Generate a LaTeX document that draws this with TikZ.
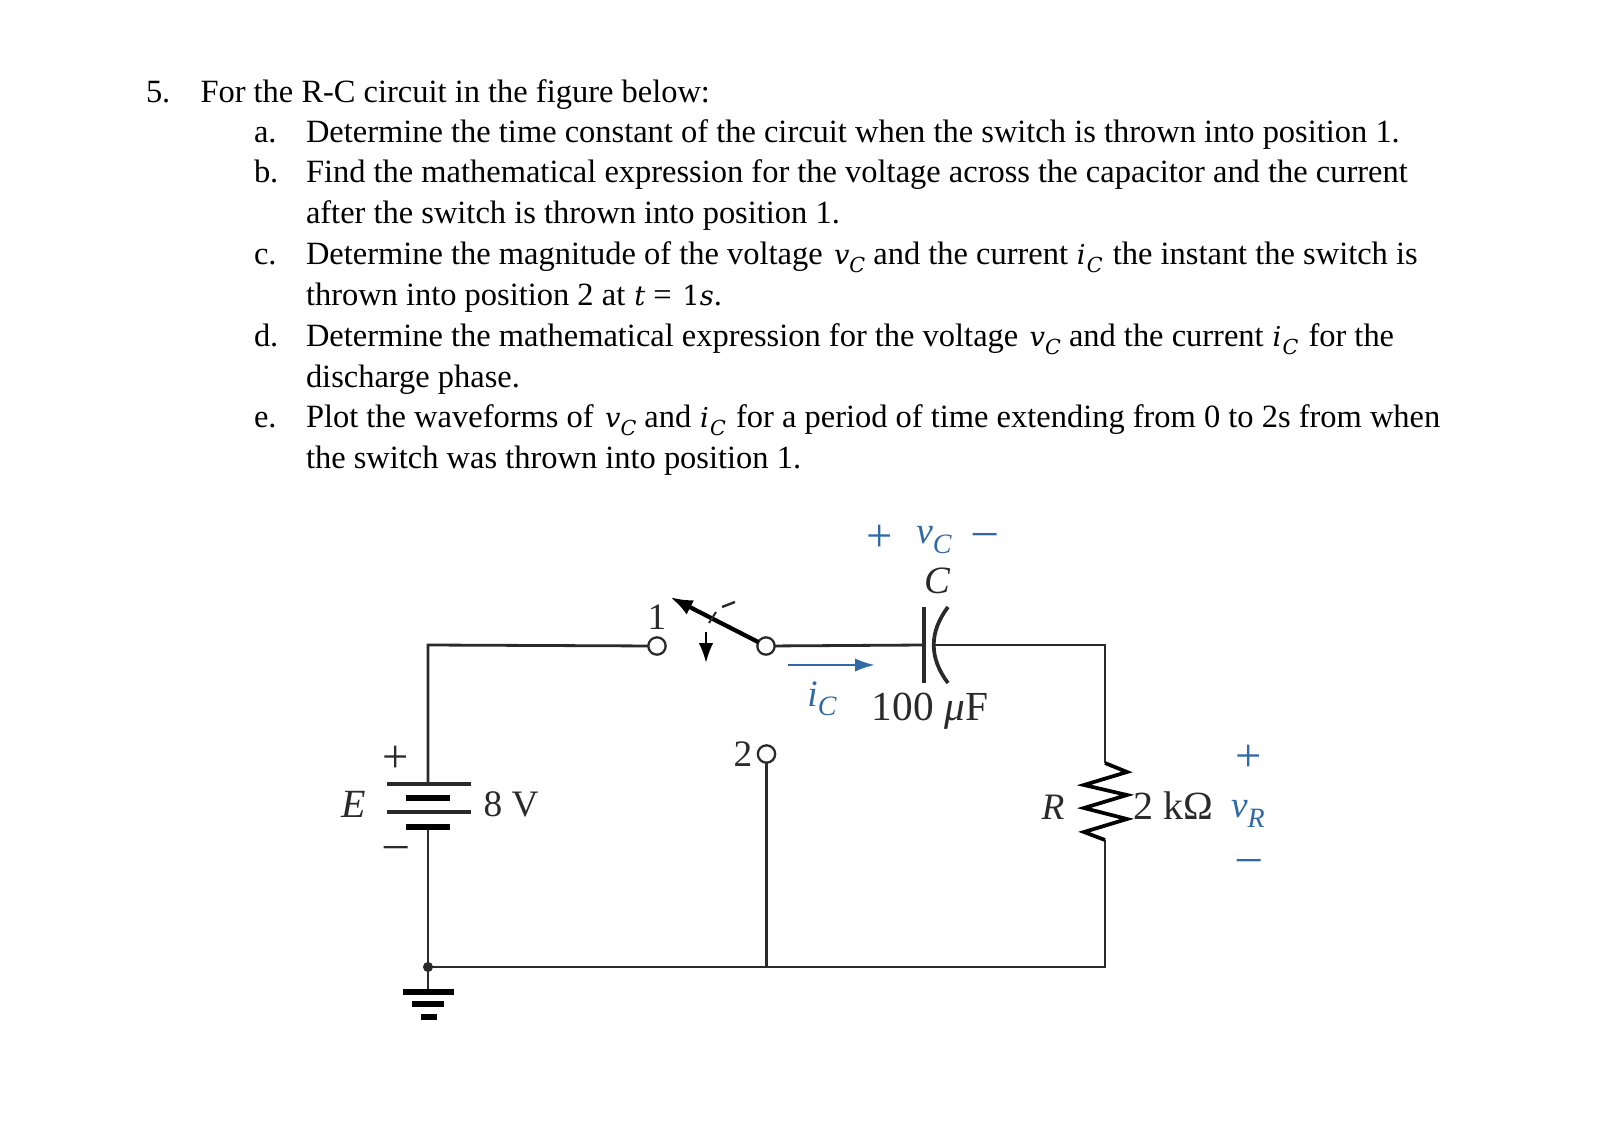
\documentclass[tikz,border=0pt]{standalone}
\usepackage{fontspec}
\setmainfont{Liberation Serif}
\newfontfamily\mathish{DejaVu Serif}
\usetikzlibrary{arrows.meta}
\definecolor{bluec}{HTML}{2F6AA6}
\definecolor{inkc}{HTML}{2A2A2A}
\newcommand{\mvar}[1]{{\mathish\itshape\fontsize{20.5}{24}\selectfont #1}}
\newcommand{\msub}[1]{\raisebox{-0.25em}{\mathish\itshape\fontsize{15.5}{18}\selectfont #1}}
\newcommand{\vC}{\kern2.5pt\mvar{v}\msub{C}}
\newcommand{\iC}{\kern0.5pt\mvar{i}\kern1pt\msub{C}\kern1.5pt}
\tikzset{
  txt/.style={anchor=base west,inner sep=0pt,outer sep=0pt,font=\fontsize{24.35}{28}\selectfont,text=black},
  wire/.style={draw=inkc,line width=2.1pt},
  term/.style={circle,draw=inkc,line width=1.7pt,fill=white,minimum size=13pt,inner sep=0pt,outer sep=0pt},
  lab/.style={inner sep=0pt,outer sep=0pt,font=\fontsize{28}{32}\selectfont,text=inkc},
  sign/.style={inner sep=0pt,outer sep=0pt,font=\fontsize{35}{38}\selectfont,text=inkc},
  bluelab/.style={inner sep=0pt,outer sep=0pt,font=\fontsize{28}{32}\selectfont,text=bluec},
  bluesign/.style={inner sep=0pt,outer sep=0pt,font=\fontsize{35}{38}\selectfont,text=bluec},
  plate/.style={draw=inkc,line width=3.2pt},
  thickplate/.style={draw=black,line width=5pt}
}
\begin{document}
\begin{tikzpicture}[x=0.75pt,y=-0.75pt]
\useasboundingbox (0,0) rectangle (1604,1121);
\fill[white] (0,0) rectangle (1604,1121);
% text
\node[txt] (n5) at (146,102) {5.};
\node[txt] (l1) at (200.5,102) {For the R-C circuit in the figure below:};
\node[txt] (ma) at (254,142) {a.};
\node[txt] (la) at (306,142) {Determine the time constant of the circuit when the switch is thrown into position 1.};
\node[txt] (mb) at (254,182) {b.};
\node[txt] (lb) at (306,182) {Find the mathematical expression for the voltage across the capacitor and the current};
\node[txt] (lb2) at (306,223) {after the switch is thrown into position 1.};
\node[txt] (mc) at (254,264) {c.};
\node[txt] (lc) at (306,264) {Determine the magnitude of the voltage \vC{} and the current \iC{} the instant the switch is};
\node[txt] (lc2) at (306,305) {thrown into position 2 at \kern0.8pt\mvar{t}\kern6pt{}={}\kern8pt{}{\mathish\fontsize{20.5}{24}\selectfont 1}\mvar{s}.};
\node[txt] (md) at (254,346) {d.};
\node[txt] (ld) at (306,346) {Determine the mathematical expression for the voltage \vC{} and the current \iC{} for the};
\node[txt] (ld2) at (306,387) {discharge phase.};
\node[txt] (me) at (254,427) {e.};
\node[txt] (le) at (306,427) {Plot the waveforms of \vC{} and \iC{} for a period of time extending from 0 to 2s from when};
\node[txt] (le2) at (306,468) {the switch was thrown into position 1.};
% circuit points
\coordinate (tl) at (428,645);
\coordinate (tr) at (1105,645);
\coordinate (bl) at (428,967);
\coordinate (br) at (1105,967);
\coordinate (m2) at (766.5,967);
\coordinate (batT) at (428,784);
\coordinate (batB) at (428,827);
\coordinate (gndT) at (428,992);
\coordinate (capA) at (924,645);
\coordinate (capB) at (933,645);
\coordinate (resT) at (1105,763);
\coordinate (resB) at (1105,840);
\node[term] (t1) at (657,646) {};
\node[term] (pv) at (766,646) {};
\node[term] (t2) at (766.5,754) {};
\coordinate (tip) at (670,597);
% wires
\draw[wire] (batT) -- (tl) -- (t1);
\draw[wire] (pv) -- (capA);
\draw[wire] (capB) -- (tr) -- (resT);
\draw[wire] (resB) -- (br) -- (bl);
\draw[wire] (batB) -- (bl) -- (gndT);
\draw[wire] (t2) -- (m2);
% switch
\draw[draw=black,line width=3.2pt,-{Latex[length=17pt,width=12pt]}] (pv) -- (tip);
\draw[draw=inkc,line width=1.5pt] (709,623) -- (716,612);
\draw[draw=inkc,line width=1.8pt] (722,607) -- (735,602);
\draw[draw=black,line width=2pt,-{Latex[length=15pt,width=11pt]}] (706,632) -- (706,663);
% capacitor
\draw[draw=inkc,line width=3pt] (924,607) -- (924,683);
\draw[draw=inkc,line width=2.8pt] (948,607) .. controls (929,632) and (929,658) .. (948,683);
% i_C arrow
\draw[draw=bluec,line width=2pt,-{Latex[length=15pt,width=10pt]}] (788,665) -- (875,665);
% battery
\draw[plate] (387,784) -- (471,784);
\draw[thickplate] (406,798) -- (450,798);
\draw[plate] (387,812) -- (471,812);
\draw[thickplate] (406,827) -- (450,827);
% ground
\fill[inkc] (428,967) circle (3.8pt);
\draw[thickplate] (403,992) -- (454,992);
\draw[thickplate] (412,1004) -- (444,1004);
\draw[thickplate] (421,1017) -- (437,1017);
% resistor
\draw[draw=black,line width=2.8pt,line join=miter] (resT) -- (1127,772) -- (1084,785) -- (1127,795) -- (1084,808) -- (1127,819) -- (1084,832) -- (resB);
% labels
\node[lab] (one) at (657,617) {1};
\node[lab] (two) at (743,754) {2};
\node[lab,font=\fontsize{29}{32}\selectfont] (cap) at (937,581) {\itshape C};
\node[bluesign] (vcp) at (880,538) {+};
\node[bluelab] (vc) at (934,540) {\itshape v\raisebox{-0.25em}{\fontsize{21}{24}\selectfont C}};
\node[bluesign] (vcm) at (985,539) {--};
\node[bluelab] (ic) at (822,699) {\itshape i\raisebox{-0.25em}{\fontsize{21}{24}\selectfont C}};
\node[lab,font=\fontsize{31}{34}\selectfont] (cval) at (930,711) {100 \textit{μ}F};
\node[sign] (batp) at (396,759) {+};
\node[sign] (batm) at (396,852) {--};
\node[lab,font=\fontsize{30}{34}\selectfont] (e) at (354,804) {\itshape E};
\node[lab] (bv) at (511,804) {8 V};
\node[lab] (r) at (1053,807) {\itshape R};
\node[lab,font=\fontsize{30}{34}\selectfont] (rv) at (1173,806) {2 kΩ};
\node[bluesign] (rp) at (1249,758) {+};
\node[bluelab] (vr) at (1248,814) {\itshape v\raisebox{-0.25em}{\fontsize{21}{24}\selectfont R}};
\node[bluesign] (rm) at (1249,865) {--};
\end{tikzpicture}
\end{document}
